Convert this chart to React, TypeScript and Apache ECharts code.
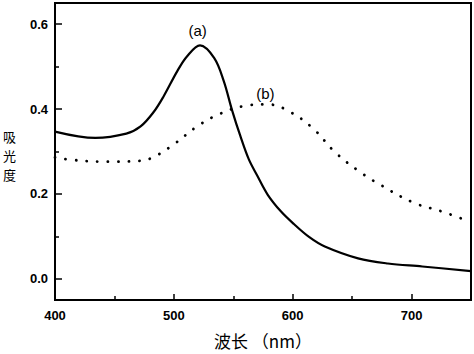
import React, { useEffect, useRef } from "react";
import * as echarts from "echarts";

const wavelengthsA = [400, 434, 460, 472, 483, 491, 503, 511, 522, 534, 542, 549, 556, 563, 570, 579, 590, 601, 614, 627, 655, 680, 709, 750];
const absorbanceA = [0.347, 0.332, 0.342, 0.359, 0.393, 0.428, 0.49, 0.524, 0.55, 0.52, 0.466, 0.397, 0.336, 0.282, 0.244, 0.198, 0.159, 0.129, 0.098, 0.076, 0.048, 0.036, 0.029, 0.018];
const wavelengthsB = [400, 415, 444, 472, 483, 500, 520, 539, 559, 579, 598, 618, 635, 655, 674, 702, 725, 744];
const absorbanceB = [0.286, 0.28, 0.276, 0.278, 0.287, 0.317, 0.36, 0.389, 0.407, 0.411, 0.393, 0.352, 0.3, 0.255, 0.221, 0.179, 0.159, 0.14];
const yMajorTicks = [0, 0.2, 0.4, 0.6];
const yMinorTicks = [0.1, 0.3, 0.5];
const yTitleChars = ["吸", "光", "度"];
const labelA = { name: "(a)", coord: [520, 0.585] };
const labelB = { name: "(b)", coord: [577, 0.437] };

const tickFont = { color: "#000", fontWeight: "bold" as const, fontSize: 13, fontFamily: "Liberation Sans, Arial, sans-serif" };
const noteLabel = { show: true, position: "inside", formatter: "{b}", color: "#000", fontSize: 15, fontFamily: "Liberation Sans, Arial, sans-serif" };

export default function App() {
  const ref = useRef<HTMLDivElement>(null);
  useEffect(() => {
    if (!ref.current) return;
    const chart = echarts.init(ref.current, undefined, { renderer: "svg" });
    const yRange = { min: -0.05, max: 0.65 };
    chart.setOption({
      animation: false,
      grid: { left: 55, right: 3, top: 3, bottom: 47, show: true, borderColor: "#000", borderWidth: 2 },
      xAxis: {
        type: "value",
        min: 400,
        max: 750,
        interval: 100,
        axisLine: { onZero: false, lineStyle: { color: "#000", width: 2 } },
        axisTick: { inside: true, length: 6, lineStyle: { color: "#000", width: 1.5 } },
        minorTick: { show: true, splitNumber: 2, length: 4, lineStyle: { color: "#000", width: 1.5 } },
        axisLabel: { ...tickFont, margin: 9, showMaxLabel: false },
        splitLine: { show: false },
        name: "波长 （nm）",
        nameLocation: "middle",
        nameGap: 32,
        nameTextStyle: { color: "#000", fontSize: 17, fontFamily: "Noto Sans CJK SC" },
      },
      yAxis: [
        {
          type: "value",
          ...yRange,
          axisLine: { show: true, onZero: false, lineStyle: { color: "#000", width: 2 } },
          axisTick: { show: true, inside: true, length: 7, customValues: yMajorTicks, lineStyle: { color: "#000", width: 1.5 } },
          axisLabel: { ...tickFont, margin: 7, customValues: yMajorTicks, formatter: (v: number) => v.toFixed(1) },
          splitLine: { show: false },
        },
        {
          type: "value",
          ...yRange,
          position: "left",
          axisLine: { show: false },
          axisTick: { show: true, inside: true, length: 4, customValues: yMinorTicks, lineStyle: { color: "#000", width: 1.5 } },
          axisLabel: { show: false, customValues: yMinorTicks },
          splitLine: { show: false },
        },
      ],
      graphic: yTitleChars.map((ch, i) => ({
        type: "text",
        left: 3,
        top: 129 + i * 19,
        style: { text: ch, fontSize: 13, lineHeight: 14, fill: "#000", fontFamily: "Noto Sans CJK SC" },
      })),
      series: [
        {
          type: "line",
          data: wavelengthsA.map((x, i) => [x, absorbanceA[i]]),
          smooth: 0.35,
          showSymbol: false,
          lineStyle: { color: "#000", width: 2.2 },
          markPoint: { symbol: "circle", symbolSize: 0, label: noteLabel, data: [labelA] },
        },
        {
          type: "line",
          data: wavelengthsB.map((x, i) => [x, absorbanceB[i]]),
          smooth: 0.4,
          showSymbol: false,
          lineStyle: { color: "#000", width: 2.8, type: [0.1, 10.5], cap: "round" },
          markPoint: { symbol: "circle", symbolSize: 0, label: noteLabel, data: [labelB] },
        },
      ],
    });
    return () => chart.dispose();
  }, []);
  return <div ref={ref} style={{ width: 474, height: 354, position: "absolute", left: 0, top: 0 }} />;
}
